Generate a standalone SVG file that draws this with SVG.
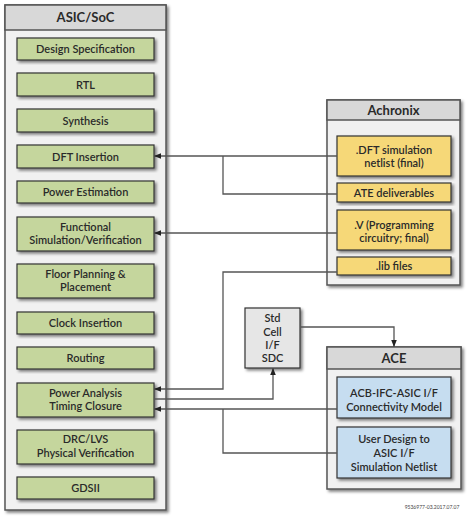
<svg xmlns="http://www.w3.org/2000/svg" width="474" height="523" viewBox="0 0 474 523">
<defs>
<filter id="sh" x="-10%" y="-10%" width="130%" height="130%">
<feGaussianBlur in="SourceAlpha" stdDeviation="1.5"/>
<feOffset dx="2" dy="2" result="b"/>
<feComponentTransfer><feFuncA type="linear" slope="0.5"/></feComponentTransfer>
<feMerge><feMergeNode/><feMergeNode in="SourceGraphic"/></feMerge>
</filter>
<marker id="ah" viewBox="0 0 10 10" refX="10" refY="5" markerWidth="7" markerHeight="7" markerUnits="userSpaceOnUse" orient="auto">
<path d="M0,1 L10,5 L0,9 Z" fill="#222"/>
</marker>
<style>
.outer{fill:#f1f1f1;stroke:#555;stroke-width:1.5}
.hdr{fill:#d8d8d8;stroke:#555;stroke-width:1.5}
.g{fill:#c5d69d;stroke:#333;stroke-width:1.2}
.y{fill:#f6d878;stroke:#333;stroke-width:1.2}
.b{fill:#c6ddf0;stroke:#333;stroke-width:1.2}
.s{fill:#e6e6e6;stroke:#333;stroke-width:1.2}
text{font-family:Lato,"Liberation Sans",sans-serif;font-weight:600;font-size:11px;fill:#2a2a2a;text-anchor:middle}
.h{font-weight:700;font-size:13px}
.c{fill:none;stroke:#555;stroke-width:1.3}
.ft{font-size:5px;font-weight:400;fill:#444}
</style>
</defs>

<g id="asic">
<rect class="outer" x="5" y="5" width="161" height="505" filter="url(#sh)"/>
<rect class="hdr" x="5" y="5" width="161" height="25"/>
<text class="h" x="85.5" y="22">ASIC/SoC</text>
</g>
<g id="design-spec"><rect class="g" x="17" y="38" width="137" height="22" filter="url(#sh)"/><text x="85.5" y="53">Design Specification</text></g>
<g id="rtl"><rect class="g" x="17" y="73" width="137" height="23" filter="url(#sh)"/><text x="85.5" y="88.5">RTL</text></g>
<g id="synthesis"><rect class="g" x="17" y="109" width="137" height="23" filter="url(#sh)"/><text x="85.5" y="124.5">Synthesis</text></g>
<g id="dft"><rect class="g" x="17" y="145" width="137" height="23" filter="url(#sh)"/><text x="85.5" y="160.5">DFT Insertion</text></g>
<g id="power-est"><rect class="g" x="17" y="181" width="137" height="22" filter="url(#sh)"/><text x="85.5" y="196">Power Estimation</text></g>
<g id="functional"><rect class="g" x="17" y="217" width="137" height="34" filter="url(#sh)"/><text x="85.5" y="231">Functional</text><text x="85.5" y="244">Simulation/Verification</text></g>
<g id="floor"><rect class="g" x="17" y="264" width="137" height="34" filter="url(#sh)"/><text x="85.5" y="278">Floor Planning &amp;</text><text x="85.5" y="291">Placement</text></g>
<g id="clock"><rect class="g" x="17" y="312" width="137" height="22" filter="url(#sh)"/><text x="85.5" y="327">Clock Insertion</text></g>
<g id="routing"><rect class="g" x="17" y="347" width="137" height="22" filter="url(#sh)"/><text x="85.5" y="362">Routing</text></g>
<g id="power-analysis"><rect class="g" x="17" y="383" width="137" height="34" filter="url(#sh)"/><text x="85.5" y="397">Power Analysis</text><text x="85.5" y="410">Timing Closure</text></g>
<g id="drc"><rect class="g" x="17" y="430" width="137" height="34" filter="url(#sh)"/><text x="85.5" y="443">DRC/LVS</text><text x="85.5" y="457">Physical Verification</text></g>
<g id="gdsii"><rect class="g" x="17" y="477" width="137" height="22" filter="url(#sh)"/><text x="85.5" y="492">GDSII</text></g>

<g id="achronix">
<rect class="outer" x="327" y="100" width="133" height="185" filter="url(#sh)"/>
<rect class="hdr" x="327" y="100" width="133" height="20"/>
<text class="h" x="393.5" y="114.5">Achronix</text>
</g>
<g id="dft-netlist"><rect class="y" x="337" y="136" width="114" height="40" filter="url(#sh)"/><text x="394" y="154">.DFT simulation</text><text x="394" y="167">netlist (final)</text></g>
<g id="ate"><rect class="y" x="337" y="183" width="114" height="19" filter="url(#sh)"/><text x="394" y="196.5">ATE deliverables</text></g>
<g id="v-prog"><rect class="y" x="337" y="210" width="114" height="40" filter="url(#sh)"/><text x="394" y="229">.V (Programming</text><text x="394" y="242">circuitry; final)</text></g>
<g id="lib"><rect class="y" x="337" y="257" width="114" height="18" filter="url(#sh)"/><text x="394" y="270">.lib files</text></g>

<g id="stdcell"><rect class="s" x="245" y="308" width="55" height="60" filter="url(#sh)"/><text x="272.5" y="322">Std</text><text x="272.5" y="336">Cell</text><text x="272.5" y="349">I/F</text><text x="272.5" y="362">SDC</text></g>

<g id="ace">
<rect class="outer" x="327" y="347" width="134" height="142" filter="url(#sh)"/>
<rect class="hdr" x="327" y="347" width="134" height="22"/>
<text class="h" x="394" y="363">ACE</text>
</g>
<g id="acb"><rect class="b" x="337" y="377" width="114" height="41" filter="url(#sh)"/><text x="394" y="397">ACB-IFC-ASIC I/F</text><text x="394" y="411">Connectivity Model</text></g>
<g id="user-design"><rect class="b" x="337" y="427" width="114" height="51" filter="url(#sh)"/><text x="394" y="443">User Design to</text><text x="394" y="457">ASIC I/F</text><text x="394" y="471">Simulation Netlist</text></g>

<g id="connectors">
<path class="c" d="M337,156 H154" marker-end="url(#ah)"/>
<path class="c" d="M337,194 H223 V156"/>
<path class="c" d="M337,233 H154" marker-end="url(#ah)"/>
<path class="c" d="M337,272 H223 V389 H154" marker-end="url(#ah)"/>
<path class="c" d="M154,399 H273 V368" marker-end="url(#ah)"/>
<path class="c" d="M337,409 H154" marker-end="url(#ah)"/>
<path class="c" d="M337,453 H223 V409"/>
<path class="c" d="M300,327 H394 V347" marker-end="url(#ah)"/>
</g>

<text class="ft" x="432" y="509">9536977-03.2017.07.07</text>
</svg>
